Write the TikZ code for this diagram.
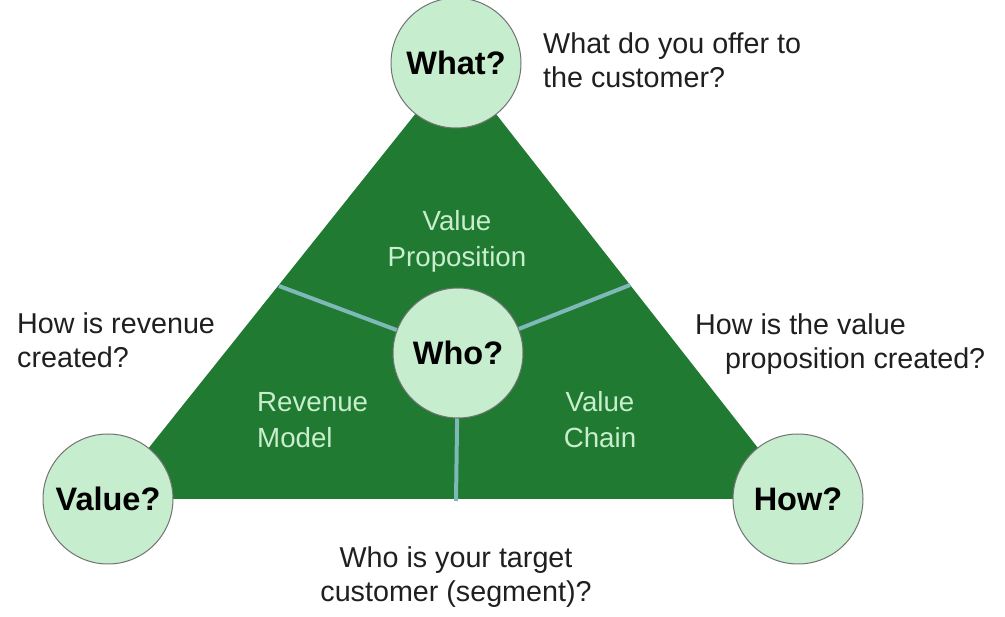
\documentclass[tikz,border=0pt]{standalone}
\usepackage{fontspec}
\setmainfont{Liberation Sans}
\definecolor{darkgreen}{RGB}{33,122,50}
\definecolor{lightgreen}{RGB}{198,238,206}
\definecolor{divider}{RGB}{126,184,184}
\definecolor{innertext}{RGB}{200,238,205}
\tikzset{
  question/.style={circle, draw=black!55, line width=1pt, fill=lightgreen, minimum size=130pt, inner sep=0pt, font=\fontsize{32.5}{38}\selectfont\bfseries},
  answer/.style={font=\fontsize{28.7}{34}\selectfont, inner sep=0pt, text=black!88},
  part/.style={font=\fontsize{27.7}{36}\selectfont, inner sep=0pt, text=innertext, align=center}
}
\begin{document}
\begin{tikzpicture}[x=1pt, y=-1pt]
\useasboundingbox (0,0) rectangle (1005,617);

\coordinate (top) at (456,63);
\coordinate (left) at (108,499);
\coordinate (right) at (798,499);
\fill[darkgreen] (top) -- (left) -- (right) -- cycle;

\coordinate (dl) at (279,286);
\coordinate (dr) at (630,285);
\coordinate (db) at (456,501);

\node[part] (vp) at (457,210) [anchor=north] {Value\\Proposition};
\node[part, align=left] (rm) at (257,392) [anchor=north west] {Revenue\\Model};
\node[part] (vc) at (600,391) [anchor=north] {Value\\Chain};

\node[question] (who) at (458,353) {Who?};
\draw[divider, line width=4pt] (who) -- (dl);
\draw[divider, line width=4pt] (who) -- (dr);
\draw[divider, line width=4pt] (who) -- (db);
\node[question] (what) at (top) {What?};
\node[question] (value) at (left) {Value?};
\node[question] (how) at (right) {How?};

\node[answer, align=left, anchor=north west] (offer) at (543,33) {What do you offer to\\the customer?};
\node[answer, align=left, anchor=north west] (revenue) at (17,313) {How is revenue\\created?};
\node[answer, align=left, anchor=north west] (created) at (695,314) {How is the value\\\hspace*{30pt}proposition created?};
\node[answer, align=center, anchor=north] (target) at (456,547) {Who is your target\\customer (segment)?};
\end{tikzpicture}
\end{document}
